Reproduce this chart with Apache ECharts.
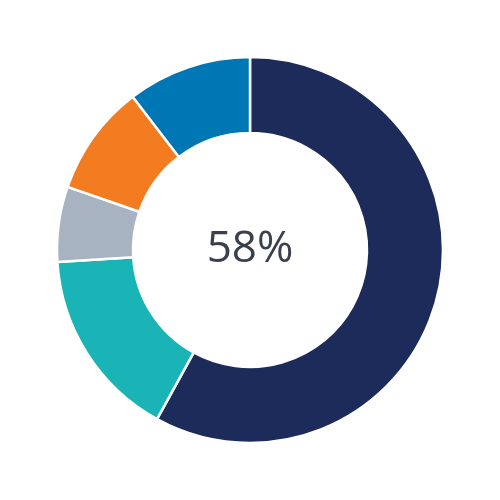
<!DOCTYPE html>
<html style="height: 100%">
<head>
  <meta charset="utf-8">
  <title>donut</title>
</head>
<body style="height: 100%; margin: 0; background: #fff">
<div id="container" style="width: 500px; height: 500px"></div>
<script src="https://cdn.jsdelivr.net/npm/echarts@6/dist/echarts.min.js"></script>
<script>
  var names = ['A', 'B', 'C', 'D', 'E'];
  var values = [58, 16, 6.3, 9.3, 10.4];
  var colors = ['#1c2b5a', '#1bb4b6', '#a8b3c1', '#f47c20', '#0077b5'];
  var centerText = '58%';

  var chart = echarts.init(document.getElementById('container'));
  var data = names.map(function (n, i) {
    return { name: n, value: values[i], itemStyle: { color: colors[i] } };
  });

  chart.setOption({
    animation: false,
    title: {
      text: centerText,
      left: 'center',
      top: 222,
      textStyle: {
        fontFamily: 'Open Sans',
        fontWeight: 'normal',
        fontSize: 44,
        color: '#3a414c'
      }
    },
    series: [{
      type: 'pie',
      radius: [117, 193],
      center: [250, 250],
      startAngle: 90,
      clockwise: true,
      label: { show: false },
      labelLine: { show: false },
      itemStyle: { borderColor: '#fff', borderWidth: 2.5 },
      data: data
    }]
  });
</script>
</body>
</html>
